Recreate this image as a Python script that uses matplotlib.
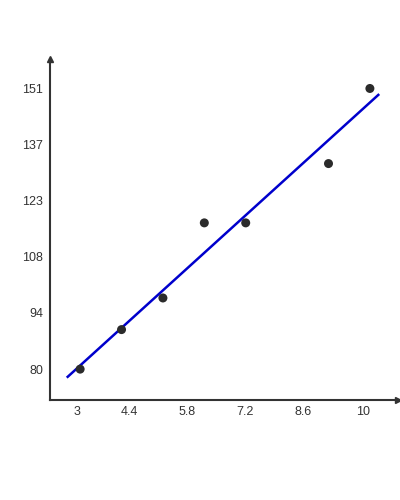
import matplotlib
matplotlib.use("Agg")
import matplotlib.pyplot as plt
import numpy as np

plt.rcParams["font.family"] = ["Liberation Sans", "DejaVu Sans"]

# observed points
x_vals = [3, 4, 5, 6, 7, 9, 10]
y_vals = [80, 90, 98, 117, 117, 132, 151]

# tick labels as printed on the axes
x_tick_labels = ["3", "4.4", "5.8", "7.2", "8.6", "10"]
y_tick_labels = ["80", "94", "108", "123", "137", "151"]

AXIS_COLOR = "#333333"
POINT_COLOR = "#2b2b2b"
LINE_COLOR = "#0000cc"


def main() -> None:
    x = np.array(x_vals, dtype=float)
    y = np.array(y_vals, dtype=float)

    fig = plt.figure(figsize=(4, 5), dpi=100)
    ax = fig.add_axes([0.125, 0.2, 0.87, 0.682])

    # least-squares trend line, drawn a bit past the data on both ends
    slope, intercept = np.polyfit(x, y, 1)
    span = x.max() - x.min()
    xl = np.array([x.min() - 0.043 * span, x.max() + 0.029 * span])
    ax.plot(xl, slope * xl + intercept, color=LINE_COLOR, lw=1.8, zorder=2)

    ax.scatter(x, y, s=42, color=POINT_COLOR, edgecolors="none", zorder=3)

    ax.set_xlim(x.min() - 0.104 * span, x.max() + 0.097 * span)
    yspan = y.max() - y.min()
    ax.set_ylim(y.min() - 0.11 * yspan, y.max() + 0.105 * yspan)

    ax.set_xticks(np.linspace(x.min(), x.max(), len(x_tick_labels)))
    ax.set_xticklabels(x_tick_labels, ha="right")
    ax.set_yticks(np.linspace(y.min(), y.max(), len(y_tick_labels)))
    ax.set_yticklabels(y_tick_labels)
    ax.tick_params(length=0, labelsize=9, colors=AXIS_COLOR)
    ax.tick_params(axis="x", pad=4)
    ax.tick_params(axis="y", pad=5)

    for side in ("top", "right"):
        ax.spines[side].set_visible(False)
    for side in ("left", "bottom"):
        ax.spines[side].set_color(AXIS_COLOR)
        ax.spines[side].set_linewidth(1.5)

    # arrow heads at the axis ends
    ax.plot(1, 0, ">", transform=ax.transAxes, color=AXIS_COLOR, ms=5, clip_on=False)
    ax.plot(0, 1, "^", transform=ax.transAxes, color=AXIS_COLOR, ms=5, clip_on=False)

    fig.savefig("out.png", dpi=100)
    plt.close(fig)


if __name__ == "__main__":
    main()
